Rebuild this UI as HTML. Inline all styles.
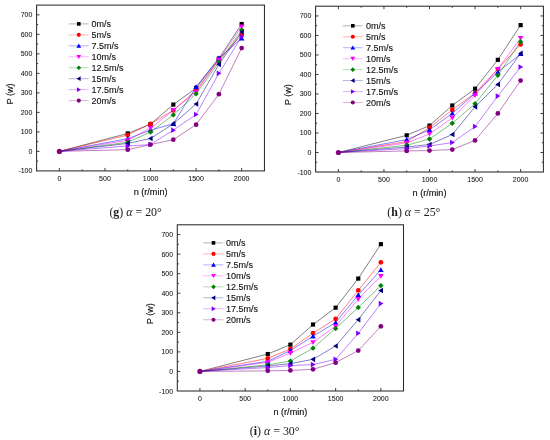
<!DOCTYPE html>
<html><head><meta charset="utf-8"><title>Power vs rotational speed</title>
<style>
html,body{margin:0;padding:0;background:#fff;}
body{width:550px;height:440px;overflow:hidden;}
svg{display:block;}
.tk{font-family:"Liberation Sans",Arial,sans-serif;font-size:7.0px;fill:#111;stroke:#111;stroke-width:0.05px;}
.lg{font-family:"Liberation Sans",Arial,sans-serif;font-size:9.0px;fill:#111;stroke:#111;stroke-width:0.12px;}
.tt{font-family:"Liberation Sans",Arial,sans-serif;font-size:9.1px;fill:#111;stroke:#111;stroke-width:0.15px;}
.cap{font-family:"Liberation Serif","Times New Roman",serif;font-size:11.9px;fill:#1a1a1a;}
</style></head>
<body>
<svg width="550" height="440" viewBox="0 0 550 440">
<rect width="550" height="440" fill="#fff"/>
<path d="M36.6 161.15h1.6M36.6 151.39h3M36.6 141.64h1.6M36.6 131.89h3M36.6 122.14h1.6M36.6 112.38h3M36.6 102.63h1.6M36.6 92.88h3M36.6 83.12h1.6M36.6 73.37h3M36.6 63.62h1.6M36.6 53.86h3M36.6 44.11h1.6M36.6 34.36h3M36.6 24.61h1.6M36.6 14.85h3M59.39 170.9v-3M82.17 170.9v-1.6M104.96 170.9v-3M127.74 170.9v-1.6M150.53 170.9v-3M173.31 170.9v-1.6M196.09 170.9v-3M218.88 170.9v-1.6M241.66 170.9v-3" stroke="#2a2a2a" stroke-width="0.9" fill="none"/>
<rect x="36.6" y="5.1" width="227.85" height="165.8" fill="none" stroke="#2a2a2a" stroke-width="1.05"/>
<text x="32.4" y="173.4" class="tk" text-anchor="end">-100</text>
<text x="32.4" y="153.89" class="tk" text-anchor="end">0</text>
<text x="32.4" y="134.39" class="tk" text-anchor="end">100</text>
<text x="32.4" y="114.88" class="tk" text-anchor="end">200</text>
<text x="32.4" y="95.38" class="tk" text-anchor="end">300</text>
<text x="32.4" y="75.87" class="tk" text-anchor="end">400</text>
<text x="32.4" y="56.36" class="tk" text-anchor="end">500</text>
<text x="32.4" y="36.86" class="tk" text-anchor="end">600</text>
<text x="32.4" y="17.35" class="tk" text-anchor="end">700</text>
<text x="59.39" y="180.5" class="tk" text-anchor="middle">0</text>
<text x="104.96" y="180.5" class="tk" text-anchor="middle">500</text>
<text x="150.53" y="180.5" class="tk" text-anchor="middle">1000</text>
<text x="196.09" y="180.5" class="tk" text-anchor="middle">1500</text>
<text x="241.66" y="180.5" class="tk" text-anchor="middle">2000</text>
<text x="150.6" y="195.3" class="tt" text-anchor="middle">n (r/min)</text>
<text transform="translate(12.5 94) rotate(-90)" x="0" y="0" class="tt" text-anchor="middle">P (w)</text>
<polyline points="59.39,151.39 127.74,133.45 150.53,124.09 173.31,104.58 196.09,88 218.88,58.55 241.66,24.02" fill="none" stroke="#000000" stroke-width="0.5"/>
<polyline points="59.39,151.39 127.74,135.01 150.53,123.89 173.31,110.43 196.09,90.34 218.88,59.72 241.66,34.94" fill="none" stroke="#ff0000" stroke-width="0.5"/>
<polyline points="59.39,151.39 127.74,138.72 150.53,130.13 173.31,123.89 196.09,86.83 218.88,58.16 241.66,38.26" fill="none" stroke="#0000ff" stroke-width="0.5"/>
<polyline points="59.39,151.39 127.74,140.28 150.53,128.18 173.31,110.24 196.09,91.9 218.88,59.91 241.66,26.56" fill="none" stroke="#ff00ff" stroke-width="0.5"/>
<polyline points="59.39,151.39 127.74,142.23 150.53,132.08 173.31,114.92 196.09,93.85 218.88,62.25 241.66,30.07" fill="none" stroke="#008000" stroke-width="0.5"/>
<polyline points="59.39,151.39 127.74,143.4 150.53,138.52 173.31,123.89 196.09,103.99 218.88,64.4 241.66,32.02" fill="none" stroke="#000080" stroke-width="0.5"/>
<polyline points="59.39,151.39 127.74,145.93 150.53,144.57 173.31,130.13 196.09,114.53 218.88,73.37 241.66,36.7" fill="none" stroke="#8000ff" stroke-width="0.5"/>
<polyline points="59.39,151.39 127.74,149.64 150.53,144.57 173.31,139.69 196.09,124.67 218.88,94.24 241.66,48.01" fill="none" stroke="#800080" stroke-width="0.5"/>
<rect x="125.65" y="131.36" width="4.18" height="4.18" fill="#000000"/>
<rect x="148.44" y="122" width="4.18" height="4.18" fill="#000000"/>
<rect x="171.22" y="102.49" width="4.18" height="4.18" fill="#000000"/>
<rect x="194" y="85.91" width="4.18" height="4.18" fill="#000000"/>
<rect x="216.79" y="56.46" width="4.18" height="4.18" fill="#000000"/>
<rect x="239.57" y="21.93" width="4.18" height="4.18" fill="#000000"/>
<circle cx="127.74" cy="135.01" r="2.37" fill="#ff0000"/>
<circle cx="150.53" cy="123.89" r="2.37" fill="#ff0000"/>
<circle cx="173.31" cy="110.43" r="2.37" fill="#ff0000"/>
<circle cx="196.09" cy="90.34" r="2.37" fill="#ff0000"/>
<circle cx="218.88" cy="59.72" r="2.37" fill="#ff0000"/>
<circle cx="241.66" cy="34.94" r="2.37" fill="#ff0000"/>
<polygon points="127.74,136.11 130.55,140.84 124.94,140.84" fill="#0000ff"/>
<polygon points="150.53,127.53 153.33,132.26 147.72,132.26" fill="#0000ff"/>
<polygon points="173.31,121.29 176.12,126.02 170.5,126.02" fill="#0000ff"/>
<polygon points="196.09,84.23 198.9,88.96 193.29,88.96" fill="#0000ff"/>
<polygon points="218.88,55.55 221.69,60.28 216.07,60.28" fill="#0000ff"/>
<polygon points="241.66,35.66 244.47,40.39 238.86,40.39" fill="#0000ff"/>
<polygon points="127.74,142.88 130.55,138.15 124.94,138.15" fill="#ff00ff"/>
<polygon points="150.53,130.78 153.33,126.05 147.72,126.05" fill="#ff00ff"/>
<polygon points="173.31,112.84 176.12,108.11 170.5,108.11" fill="#ff00ff"/>
<polygon points="196.09,94.5 198.9,89.77 193.29,89.77" fill="#ff00ff"/>
<polygon points="218.88,62.51 221.69,57.78 216.07,57.78" fill="#ff00ff"/>
<polygon points="241.66,29.16 244.47,24.43 238.86,24.43" fill="#ff00ff"/>
<polygon points="127.74,139.53 130.44,142.23 127.74,144.92 125.05,142.23" fill="#008000"/>
<polygon points="150.53,129.39 153.22,132.08 150.53,134.78 147.83,132.08" fill="#008000"/>
<polygon points="173.31,112.22 176,114.92 173.31,117.61 170.62,114.92" fill="#008000"/>
<polygon points="196.09,91.16 198.79,93.85 196.09,96.55 193.4,93.85" fill="#008000"/>
<polygon points="218.88,59.56 221.57,62.25 218.88,64.95 216.19,62.25" fill="#008000"/>
<polygon points="241.66,27.37 244.36,30.07 241.66,32.76 238.97,30.07" fill="#008000"/>
<polygon points="125.14,143.4 129.87,140.59 129.87,146.2" fill="#000080"/>
<polygon points="147.92,138.52 152.65,135.72 152.65,141.33" fill="#000080"/>
<polygon points="170.71,123.89 175.44,121.09 175.44,126.7" fill="#000080"/>
<polygon points="193.49,103.99 198.22,101.19 198.22,106.8" fill="#000080"/>
<polygon points="216.28,64.4 221.01,61.59 221.01,67.2" fill="#000080"/>
<polygon points="239.06,32.02 243.79,29.21 243.79,34.82" fill="#000080"/>
<polygon points="130.34,145.93 125.61,143.13 125.61,148.74" fill="#8000ff"/>
<polygon points="153.13,144.57 148.4,141.76 148.4,147.37" fill="#8000ff"/>
<polygon points="175.91,130.13 171.18,127.33 171.18,132.94" fill="#8000ff"/>
<polygon points="198.7,114.53 193.97,111.72 193.97,117.33" fill="#8000ff"/>
<polygon points="221.48,73.37 216.75,70.57 216.75,76.18" fill="#8000ff"/>
<polygon points="244.27,36.7 239.54,33.89 239.54,39.5" fill="#8000ff"/>
<circle cx="127.74" cy="149.64" r="2.37" fill="#800080"/>
<circle cx="150.53" cy="144.57" r="2.37" fill="#800080"/>
<circle cx="173.31" cy="139.69" r="2.37" fill="#800080"/>
<circle cx="196.09" cy="124.67" r="2.37" fill="#800080"/>
<circle cx="218.88" cy="94.24" r="2.37" fill="#800080"/>
<circle cx="241.66" cy="48.01" r="2.37" fill="#800080"/>
<circle cx="59.39" cy="151.39" r="2.6" fill="#800080"/>
<line x1="68.7" y1="23.9" x2="88.6" y2="23.9" stroke="#000000" stroke-width="0.8" stroke-opacity="0.38"/>
<rect x="76.99" y="22.09" width="3.61" height="3.61" fill="#000000"/>
<text x="91.6" y="27" class="lg">0m/s</text>
<line x1="68.7" y1="34.86" x2="88.6" y2="34.86" stroke="#ff0000" stroke-width="0.8" stroke-opacity="0.38"/>
<circle cx="78.8" cy="34.86" r="2.04" fill="#ff0000"/>
<text x="91.6" y="37.96" class="lg">5m/s</text>
<line x1="68.7" y1="45.82" x2="88.6" y2="45.82" stroke="#0000ff" stroke-width="0.8" stroke-opacity="0.38"/>
<polygon points="78.8,43.57 81.22,47.66 76.38,47.66" fill="#0000ff"/>
<text x="91.6" y="48.92" class="lg">7.5m/s</text>
<line x1="68.7" y1="56.78" x2="88.6" y2="56.78" stroke="#ff00ff" stroke-width="0.8" stroke-opacity="0.38"/>
<polygon points="78.8,59.03 81.22,54.94 76.38,54.94" fill="#ff00ff"/>
<text x="91.6" y="59.88" class="lg">10m/s</text>
<line x1="68.7" y1="67.74" x2="88.6" y2="67.74" stroke="#008000" stroke-width="0.8" stroke-opacity="0.38"/>
<polygon points="78.8,65.41 81.13,67.74 78.8,70.07 76.47,67.74" fill="#008000"/>
<text x="91.6" y="70.84" class="lg">12.5m/s</text>
<line x1="68.7" y1="78.7" x2="88.6" y2="78.7" stroke="#000080" stroke-width="0.8" stroke-opacity="0.38"/>
<polygon points="76.55,78.7 80.64,76.28 80.64,81.12" fill="#000080"/>
<text x="91.6" y="81.8" class="lg">15m/s</text>
<line x1="68.7" y1="89.66" x2="88.6" y2="89.66" stroke="#8000ff" stroke-width="0.8" stroke-opacity="0.38"/>
<polygon points="81.05,89.66 76.96,87.24 76.96,92.08" fill="#8000ff"/>
<text x="91.6" y="92.76" class="lg">17.5m/s</text>
<line x1="68.7" y1="100.62" x2="88.6" y2="100.62" stroke="#800080" stroke-width="0.8" stroke-opacity="0.38"/>
<circle cx="78.8" cy="100.62" r="2.04" fill="#800080"/>
<text x="91.6" y="103.72" class="lg">20m/s</text>
<text x="109.4" y="216.2" class="cap">(<tspan font-weight="bold">g</tspan>) <tspan font-style="italic">&#945;</tspan> = 20&#176;</text>
<path d="M315.6 162.25h1.6M543.4 162.25h-1.6M315.6 152.49h3M543.4 152.49h-3M315.6 142.74h1.6M543.4 142.74h-1.6M315.6 132.99h3M543.4 132.99h-3M315.6 123.24h1.6M543.4 123.24h-1.6M315.6 113.48h3M543.4 113.48h-3M315.6 103.73h1.6M543.4 103.73h-1.6M315.6 93.98h3M543.4 93.98h-3M315.6 84.22h1.6M543.4 84.22h-1.6M315.6 74.47h3M543.4 74.47h-3M315.6 64.72h1.6M543.4 64.72h-1.6M315.6 54.96h3M543.4 54.96h-3M315.6 45.21h1.6M543.4 45.21h-1.6M315.6 35.46h3M543.4 35.46h-3M315.6 25.71h1.6M543.4 25.71h-1.6M315.6 15.95h3M543.4 15.95h-3M338.38 172v-3M338.38 6.2v3M361.16 172v-1.6M361.16 6.2v1.6M383.94 172v-3M383.94 6.2v3M406.72 172v-1.6M406.72 6.2v1.6M429.5 172v-3M429.5 6.2v3M452.28 172v-1.6M452.28 6.2v1.6M475.06 172v-3M475.06 6.2v3M497.84 172v-1.6M497.84 6.2v1.6M520.62 172v-3M520.62 6.2v3" stroke="#2a2a2a" stroke-width="0.9" fill="none"/>
<rect x="315.6" y="6.2" width="227.8" height="165.8" fill="none" stroke="#2a2a2a" stroke-width="1.05"/>
<text x="311.4" y="174.5" class="tk" text-anchor="end">-100</text>
<text x="311.4" y="154.99" class="tk" text-anchor="end">0</text>
<text x="311.4" y="135.49" class="tk" text-anchor="end">100</text>
<text x="311.4" y="115.98" class="tk" text-anchor="end">200</text>
<text x="311.4" y="96.48" class="tk" text-anchor="end">300</text>
<text x="311.4" y="76.97" class="tk" text-anchor="end">400</text>
<text x="311.4" y="57.46" class="tk" text-anchor="end">500</text>
<text x="311.4" y="37.96" class="tk" text-anchor="end">600</text>
<text x="311.4" y="18.45" class="tk" text-anchor="end">700</text>
<text x="338.38" y="181.6" class="tk" text-anchor="middle">0</text>
<text x="383.94" y="181.6" class="tk" text-anchor="middle">500</text>
<text x="429.5" y="181.6" class="tk" text-anchor="middle">1000</text>
<text x="475.06" y="181.6" class="tk" text-anchor="middle">1500</text>
<text x="520.62" y="181.6" class="tk" text-anchor="middle">2000</text>
<text x="429.5" y="196.3" class="tt" text-anchor="middle">n (r/min)</text>
<text transform="translate(291.2 94.7) rotate(-90)" x="0" y="0" class="tt" text-anchor="middle">P (w)</text>
<polyline points="338.38,152.49 406.72,135.33 429.5,125.58 452.28,105.48 475.06,88.71 497.84,59.84 520.62,25.12" fill="none" stroke="#000000" stroke-width="0.5"/>
<polyline points="338.38,152.49 406.72,141.57 429.5,127.72 452.28,109.97 475.06,93 497.84,69.01 520.62,44.43" fill="none" stroke="#ff0000" stroke-width="0.5"/>
<polyline points="338.38,152.49 406.72,139.62 429.5,129.87 452.28,113.48 475.06,93.39 497.84,72.13 520.62,53.99" fill="none" stroke="#0000ff" stroke-width="0.5"/>
<polyline points="338.38,152.49 406.72,142.94 429.5,133.96 452.28,117.77 475.06,95.34 497.84,69.01 520.62,38.19" fill="none" stroke="#ff00ff" stroke-width="0.5"/>
<polyline points="338.38,152.49 406.72,145.28 429.5,139.04 452.28,123.24 475.06,103.73 497.84,75.25 520.62,41.7" fill="none" stroke="#008000" stroke-width="0.5"/>
<polyline points="338.38,152.49 406.72,147.03 429.5,144.5 452.28,134.55 475.06,106.85 497.84,84.42 520.62,53.4" fill="none" stroke="#000080" stroke-width="0.5"/>
<polyline points="338.38,152.49 406.72,148.59 429.5,146.06 452.28,142.55 475.06,126.55 497.84,96.12 520.62,67.06" fill="none" stroke="#8000ff" stroke-width="0.5"/>
<polyline points="338.38,152.49 406.72,150.93 429.5,150.54 452.28,149.57 475.06,140.4 497.84,113.48 520.62,80.52" fill="none" stroke="#800080" stroke-width="0.5"/>
<rect x="404.63" y="133.24" width="4.18" height="4.18" fill="#000000"/>
<rect x="427.41" y="123.49" width="4.18" height="4.18" fill="#000000"/>
<rect x="450.19" y="103.39" width="4.18" height="4.18" fill="#000000"/>
<rect x="472.97" y="86.62" width="4.18" height="4.18" fill="#000000"/>
<rect x="495.75" y="57.75" width="4.18" height="4.18" fill="#000000"/>
<rect x="518.53" y="23.03" width="4.18" height="4.18" fill="#000000"/>
<circle cx="406.72" cy="141.57" r="2.37" fill="#ff0000"/>
<circle cx="429.5" cy="127.72" r="2.37" fill="#ff0000"/>
<circle cx="452.28" cy="109.97" r="2.37" fill="#ff0000"/>
<circle cx="475.06" cy="93" r="2.37" fill="#ff0000"/>
<circle cx="497.84" cy="69.01" r="2.37" fill="#ff0000"/>
<circle cx="520.62" cy="44.43" r="2.37" fill="#ff0000"/>
<polygon points="406.72,137.02 409.53,141.75 403.92,141.75" fill="#0000ff"/>
<polygon points="429.5,127.27 432.31,132 426.69,132" fill="#0000ff"/>
<polygon points="452.28,110.88 455.08,115.61 449.47,115.61" fill="#0000ff"/>
<polygon points="475.06,90.79 477.86,95.52 472.25,95.52" fill="#0000ff"/>
<polygon points="497.84,69.53 500.64,74.26 495.03,74.26" fill="#0000ff"/>
<polygon points="520.62,51.39 523.42,56.12 517.82,56.12" fill="#0000ff"/>
<polygon points="406.72,145.54 409.53,140.81 403.92,140.81" fill="#ff00ff"/>
<polygon points="429.5,136.57 432.31,131.84 426.69,131.84" fill="#ff00ff"/>
<polygon points="452.28,120.38 455.08,115.65 449.47,115.65" fill="#ff00ff"/>
<polygon points="475.06,97.94 477.86,93.21 472.25,93.21" fill="#ff00ff"/>
<polygon points="497.84,71.61 500.64,66.88 495.03,66.88" fill="#ff00ff"/>
<polygon points="520.62,40.79 523.42,36.06 517.82,36.06" fill="#ff00ff"/>
<polygon points="406.72,142.58 409.42,145.28 406.72,147.97 404.03,145.28" fill="#008000"/>
<polygon points="429.5,136.34 432.19,139.04 429.5,141.73 426.81,139.04" fill="#008000"/>
<polygon points="452.28,120.54 454.97,123.24 452.28,125.93 449.58,123.24" fill="#008000"/>
<polygon points="475.06,101.03 477.75,103.73 475.06,106.42 472.36,103.73" fill="#008000"/>
<polygon points="497.84,72.56 500.53,75.25 497.84,77.95 495.14,75.25" fill="#008000"/>
<polygon points="520.62,39.01 523.32,41.7 520.62,44.4 517.92,41.7" fill="#008000"/>
<polygon points="404.12,147.03 408.85,144.23 408.85,149.84" fill="#000080"/>
<polygon points="426.9,144.5 431.63,141.69 431.63,147.3" fill="#000080"/>
<polygon points="449.68,134.55 454.41,131.74 454.41,137.35" fill="#000080"/>
<polygon points="472.46,106.85 477.19,104.05 477.19,109.66" fill="#000080"/>
<polygon points="495.24,84.42 499.97,81.61 499.97,87.22" fill="#000080"/>
<polygon points="518.02,53.4 522.75,50.6 522.75,56.21" fill="#000080"/>
<polygon points="409.32,148.59 404.59,145.79 404.59,151.4" fill="#8000ff"/>
<polygon points="432.1,146.06 427.37,143.25 427.37,148.86" fill="#8000ff"/>
<polygon points="454.88,142.55 450.15,139.74 450.15,145.35" fill="#8000ff"/>
<polygon points="477.66,126.55 472.93,123.75 472.93,129.36" fill="#8000ff"/>
<polygon points="500.44,96.12 495.71,93.32 495.71,98.93" fill="#8000ff"/>
<polygon points="523.22,67.06 518.49,64.25 518.49,69.86" fill="#8000ff"/>
<circle cx="406.72" cy="150.93" r="2.37" fill="#800080"/>
<circle cx="429.5" cy="150.54" r="2.37" fill="#800080"/>
<circle cx="452.28" cy="149.57" r="2.37" fill="#800080"/>
<circle cx="475.06" cy="140.4" r="2.37" fill="#800080"/>
<circle cx="497.84" cy="113.48" r="2.37" fill="#800080"/>
<circle cx="520.62" cy="80.52" r="2.37" fill="#800080"/>
<circle cx="338.38" cy="152.49" r="2.6" fill="#800080"/>
<line x1="342.9" y1="25.8" x2="362.7" y2="25.8" stroke="#000000" stroke-width="0.8" stroke-opacity="0.38"/>
<rect x="351" y="24" width="3.61" height="3.61" fill="#000000"/>
<text x="365.9" y="28.9" class="lg">0m/s</text>
<line x1="342.9" y1="36.76" x2="362.7" y2="36.76" stroke="#ff0000" stroke-width="0.8" stroke-opacity="0.38"/>
<circle cx="352.8" cy="36.76" r="2.04" fill="#ff0000"/>
<text x="365.9" y="39.86" class="lg">5m/s</text>
<line x1="342.9" y1="47.72" x2="362.7" y2="47.72" stroke="#0000ff" stroke-width="0.8" stroke-opacity="0.38"/>
<polygon points="352.8,45.47 355.22,49.56 350.38,49.56" fill="#0000ff"/>
<text x="365.9" y="50.82" class="lg">7.5m/s</text>
<line x1="342.9" y1="58.68" x2="362.7" y2="58.68" stroke="#ff00ff" stroke-width="0.8" stroke-opacity="0.38"/>
<polygon points="352.8,60.93 355.22,56.84 350.38,56.84" fill="#ff00ff"/>
<text x="365.9" y="61.78" class="lg">10m/s</text>
<line x1="342.9" y1="69.64" x2="362.7" y2="69.64" stroke="#008000" stroke-width="0.8" stroke-opacity="0.38"/>
<polygon points="352.8,67.31 355.13,69.64 352.8,71.97 350.47,69.64" fill="#008000"/>
<text x="365.9" y="72.74" class="lg">12.5m/s</text>
<line x1="342.9" y1="80.6" x2="362.7" y2="80.6" stroke="#000080" stroke-width="0.8" stroke-opacity="0.38"/>
<polygon points="350.55,80.6 354.64,78.18 354.64,83.02" fill="#000080"/>
<text x="365.9" y="83.7" class="lg">15m/s</text>
<line x1="342.9" y1="91.56" x2="362.7" y2="91.56" stroke="#8000ff" stroke-width="0.8" stroke-opacity="0.38"/>
<polygon points="355.05,91.56 350.96,89.14 350.96,93.98" fill="#8000ff"/>
<text x="365.9" y="94.66" class="lg">17.5m/s</text>
<line x1="342.9" y1="102.52" x2="362.7" y2="102.52" stroke="#800080" stroke-width="0.8" stroke-opacity="0.38"/>
<circle cx="352.8" cy="102.52" r="2.04" fill="#800080"/>
<text x="365.9" y="105.62" class="lg">20m/s</text>
<text x="387.3" y="215.9" class="cap">(<tspan font-weight="bold">h</tspan>) <tspan font-style="italic">&#945;</tspan> = 25&#176;</text>
<path d="M177.3 381.22h1.6M177.3 371.45h3M177.3 361.67h1.6M177.3 351.89h3M177.3 342.12h1.6M177.3 332.34h3M177.3 322.56h1.6M177.3 312.79h3M177.3 303.01h1.6M177.3 293.24h3M177.3 283.46h1.6M177.3 273.68h3M177.3 263.91h1.6M177.3 254.13h3M177.3 244.35h1.6M177.3 234.58h3M199.92 391v-3M222.54 391v-1.6M245.16 391v-3M267.78 391v-1.6M290.4 391v-3M313.02 391v-1.6M335.64 391v-3M358.26 391v-1.6M380.88 391v-3" stroke="#2a2a2a" stroke-width="0.9" fill="none"/>
<rect x="177.3" y="224.8" width="226.2" height="166.2" fill="none" stroke="#2a2a2a" stroke-width="1.05"/>
<text x="173.1" y="393.5" class="tk" text-anchor="end">-100</text>
<text x="173.1" y="373.95" class="tk" text-anchor="end">0</text>
<text x="173.1" y="354.39" class="tk" text-anchor="end">100</text>
<text x="173.1" y="334.84" class="tk" text-anchor="end">200</text>
<text x="173.1" y="315.29" class="tk" text-anchor="end">300</text>
<text x="173.1" y="295.74" class="tk" text-anchor="end">400</text>
<text x="173.1" y="276.18" class="tk" text-anchor="end">500</text>
<text x="173.1" y="256.63" class="tk" text-anchor="end">600</text>
<text x="173.1" y="237.08" class="tk" text-anchor="end">700</text>
<text x="199.92" y="400.6" class="tk" text-anchor="middle">0</text>
<text x="245.16" y="400.6" class="tk" text-anchor="middle">500</text>
<text x="290.4" y="400.6" class="tk" text-anchor="middle">1000</text>
<text x="335.64" y="400.6" class="tk" text-anchor="middle">1500</text>
<text x="380.88" y="400.6" class="tk" text-anchor="middle">2000</text>
<text x="290.4" y="415.3" class="tt" text-anchor="middle">n (r/min)</text>
<text transform="translate(153.3 313.7) rotate(-90)" x="0" y="0" class="tt" text-anchor="middle">P (w)</text>
<polyline points="199.92,371.45 267.78,354.04 290.4,344.66 313.02,324.52 335.64,307.7 358.26,278.57 380.88,244.16" fill="none" stroke="#000000" stroke-width="0.5"/>
<polyline points="199.92,371.45 267.78,358.35 290.4,348.96 313.02,333.12 335.64,318.85 358.26,290.3 380.88,262.34" fill="none" stroke="#ff0000" stroke-width="0.5"/>
<polyline points="199.92,371.45 267.78,361.28 290.4,350.53 313.02,336.25 335.64,322.56 358.26,295 380.88,269.77" fill="none" stroke="#0000ff" stroke-width="0.5"/>
<polyline points="199.92,371.45 267.78,362.26 290.4,353.07 313.02,342.31 335.64,326.08 358.26,299.1 380.88,276.03" fill="none" stroke="#ff00ff" stroke-width="0.5"/>
<polyline points="199.92,371.45 267.78,364.8 290.4,361.08 313.02,348.18 335.64,328.43 358.26,307.51 380.88,285.61" fill="none" stroke="#008000" stroke-width="0.5"/>
<polyline points="199.92,371.45 267.78,365.97 290.4,363.63 313.02,359.32 335.64,346.03 358.26,319.63 380.88,290.5" fill="none" stroke="#000080" stroke-width="0.5"/>
<polyline points="199.92,371.45 267.78,367.54 290.4,365.58 313.02,364.6 335.64,359.32 358.26,333.32 380.88,303.6" fill="none" stroke="#8000ff" stroke-width="0.5"/>
<polyline points="199.92,371.45 267.78,370.86 290.4,370.47 313.02,369.3 335.64,362.65 358.26,350.53 380.88,326.28" fill="none" stroke="#800080" stroke-width="0.5"/>
<rect x="265.69" y="351.95" width="4.18" height="4.18" fill="#000000"/>
<rect x="288.31" y="342.57" width="4.18" height="4.18" fill="#000000"/>
<rect x="310.93" y="322.43" width="4.18" height="4.18" fill="#000000"/>
<rect x="333.55" y="305.61" width="4.18" height="4.18" fill="#000000"/>
<rect x="356.17" y="276.48" width="4.18" height="4.18" fill="#000000"/>
<rect x="378.79" y="242.07" width="4.18" height="4.18" fill="#000000"/>
<circle cx="267.78" cy="358.35" r="2.37" fill="#ff0000"/>
<circle cx="290.4" cy="348.96" r="2.37" fill="#ff0000"/>
<circle cx="313.02" cy="333.12" r="2.37" fill="#ff0000"/>
<circle cx="335.64" cy="318.85" r="2.37" fill="#ff0000"/>
<circle cx="358.26" cy="290.3" r="2.37" fill="#ff0000"/>
<circle cx="380.88" cy="262.34" r="2.37" fill="#ff0000"/>
<polygon points="267.78,358.68 270.58,363.41 264.97,363.41" fill="#0000ff"/>
<polygon points="290.4,347.92 293.2,352.65 287.59,352.65" fill="#0000ff"/>
<polygon points="313.02,333.65 315.82,338.38 310.21,338.38" fill="#0000ff"/>
<polygon points="335.64,319.96 338.44,324.69 332.83,324.69" fill="#0000ff"/>
<polygon points="358.26,292.39 361.06,297.12 355.45,297.12" fill="#0000ff"/>
<polygon points="380.88,267.17 383.69,271.9 378.07,271.9" fill="#0000ff"/>
<polygon points="267.78,364.86 270.58,360.13 264.97,360.13" fill="#ff00ff"/>
<polygon points="290.4,355.67 293.2,350.94 287.59,350.94" fill="#ff00ff"/>
<polygon points="313.02,344.91 315.82,340.18 310.21,340.18" fill="#ff00ff"/>
<polygon points="335.64,328.69 338.44,323.96 332.83,323.96" fill="#ff00ff"/>
<polygon points="358.26,301.7 361.06,296.97 355.45,296.97" fill="#ff00ff"/>
<polygon points="380.88,278.63 383.69,273.9 378.07,273.9" fill="#ff00ff"/>
<polygon points="267.78,362.1 270.47,364.8 267.78,367.49 265.08,364.8" fill="#008000"/>
<polygon points="290.4,358.39 293.09,361.08 290.4,363.78 287.7,361.08" fill="#008000"/>
<polygon points="313.02,345.48 315.71,348.18 313.02,350.87 310.32,348.18" fill="#008000"/>
<polygon points="335.64,325.74 338.33,328.43 335.64,331.13 332.94,328.43" fill="#008000"/>
<polygon points="358.26,304.81 360.95,307.51 358.26,310.2 355.56,307.51" fill="#008000"/>
<polygon points="380.88,282.91 383.57,285.61 380.88,288.3 378.19,285.61" fill="#008000"/>
<polygon points="265.18,365.97 269.91,363.17 269.91,368.78" fill="#000080"/>
<polygon points="287.8,363.63 292.53,360.82 292.53,366.43" fill="#000080"/>
<polygon points="310.42,359.32 315.15,356.52 315.15,362.13" fill="#000080"/>
<polygon points="333.04,346.03 337.77,343.22 337.77,348.83" fill="#000080"/>
<polygon points="355.66,319.63 360.39,316.83 360.39,322.44" fill="#000080"/>
<polygon points="378.28,290.5 383.01,287.69 383.01,293.3" fill="#000080"/>
<polygon points="270.38,367.54 265.65,364.73 265.65,370.34" fill="#8000ff"/>
<polygon points="293,365.58 288.27,362.78 288.27,368.39" fill="#8000ff"/>
<polygon points="315.62,364.6 310.89,361.8 310.89,367.41" fill="#8000ff"/>
<polygon points="338.24,359.32 333.51,356.52 333.51,362.13" fill="#8000ff"/>
<polygon points="360.86,333.32 356.13,330.51 356.13,336.12" fill="#8000ff"/>
<polygon points="383.48,303.6 378.75,300.79 378.75,306.4" fill="#8000ff"/>
<circle cx="267.78" cy="370.86" r="2.37" fill="#800080"/>
<circle cx="290.4" cy="370.47" r="2.37" fill="#800080"/>
<circle cx="313.02" cy="369.3" r="2.37" fill="#800080"/>
<circle cx="335.64" cy="362.65" r="2.37" fill="#800080"/>
<circle cx="358.26" cy="350.53" r="2.37" fill="#800080"/>
<circle cx="380.88" cy="326.28" r="2.37" fill="#800080"/>
<circle cx="199.92" cy="371.45" r="2.6" fill="#800080"/>
<line x1="203.3" y1="242.9" x2="223.3" y2="242.9" stroke="#000000" stroke-width="0.8" stroke-opacity="0.38"/>
<rect x="211.69" y="241.09" width="3.61" height="3.61" fill="#000000"/>
<text x="225.9" y="246" class="lg">0m/s</text>
<line x1="203.3" y1="253.88" x2="223.3" y2="253.88" stroke="#ff0000" stroke-width="0.8" stroke-opacity="0.38"/>
<circle cx="213.5" cy="253.88" r="2.04" fill="#ff0000"/>
<text x="225.9" y="256.98" class="lg">5m/s</text>
<line x1="203.3" y1="264.86" x2="223.3" y2="264.86" stroke="#0000ff" stroke-width="0.8" stroke-opacity="0.38"/>
<polygon points="213.5,262.61 215.92,266.7 211.08,266.7" fill="#0000ff"/>
<text x="225.9" y="267.96" class="lg">7.5m/s</text>
<line x1="203.3" y1="275.84" x2="223.3" y2="275.84" stroke="#ff00ff" stroke-width="0.8" stroke-opacity="0.38"/>
<polygon points="213.5,278.09 215.92,274 211.08,274" fill="#ff00ff"/>
<text x="225.9" y="278.94" class="lg">10m/s</text>
<line x1="203.3" y1="286.82" x2="223.3" y2="286.82" stroke="#008000" stroke-width="0.8" stroke-opacity="0.38"/>
<polygon points="213.5,284.49 215.83,286.82 213.5,289.15 211.17,286.82" fill="#008000"/>
<text x="225.9" y="289.92" class="lg">12.5m/s</text>
<line x1="203.3" y1="297.8" x2="223.3" y2="297.8" stroke="#000080" stroke-width="0.8" stroke-opacity="0.38"/>
<polygon points="211.25,297.8 215.34,295.38 215.34,300.22" fill="#000080"/>
<text x="225.9" y="300.9" class="lg">15m/s</text>
<line x1="203.3" y1="308.78" x2="223.3" y2="308.78" stroke="#8000ff" stroke-width="0.8" stroke-opacity="0.38"/>
<polygon points="215.75,308.78 211.66,306.36 211.66,311.2" fill="#8000ff"/>
<text x="225.9" y="311.88" class="lg">17.5m/s</text>
<line x1="203.3" y1="319.76" x2="223.3" y2="319.76" stroke="#800080" stroke-width="0.8" stroke-opacity="0.38"/>
<circle cx="213.5" cy="319.76" r="2.04" fill="#800080"/>
<text x="225.9" y="322.86" class="lg">20m/s</text>
<text x="249.8" y="435.3" class="cap">(<tspan font-weight="bold">i</tspan>) <tspan font-style="italic">&#945;</tspan> = 30&#176;</text>
</svg>
</body></html>
